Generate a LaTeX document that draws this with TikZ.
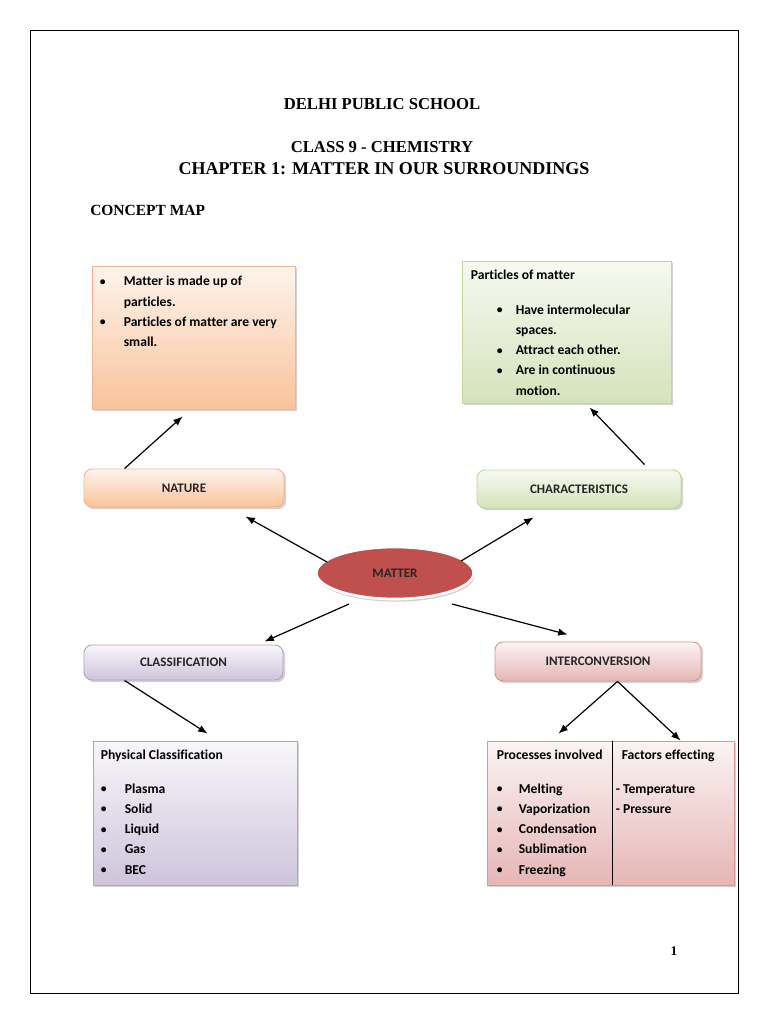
\documentclass[tikz,border=0pt]{standalone}
\usepackage{fontspec}
\setmainfont{Liberation Serif}
\newfontfamily\calib[Ligatures=NoCommon]{Carlito}
\usetikzlibrary{arrows.meta,calc,fit,shadows,shapes.geometric}
\definecolor{orT}{HTML}{FEF4EC}
\definecolor{orB}{HTML}{F9C39B}
\definecolor{orD}{HTML}{F2B48A}
\definecolor{grT}{HTML}{F6F9F0}
\definecolor{grB}{HTML}{D5E3BB}
\definecolor{grD}{HTML}{C3D69B}
\definecolor{puT}{HTML}{F8F6FA}
\definecolor{puB}{HTML}{CEC4DC}
\definecolor{puD}{HTML}{B3A2C7}
\definecolor{piT}{HTML}{FCF3F3}
\definecolor{piB}{HTML}{E5B6B5}
\definecolor{piD}{HTML}{D99694}
\definecolor{matterred}{HTML}{C0504D}
\begin{document}
\begin{tikzpicture}[x=0.75pt,y=-0.75pt,
  shbox/.style={inner sep=0pt, line width=0.7pt,
    drop shadow={shadow xshift=1.6pt, shadow yshift=-1.6pt, opacity=0.35}},
  orbox/.style={shbox, draw=orD, top color=orT, bottom color=orB},
  grbox/.style={shbox, draw=grD, top color=grT, bottom color=grB},
  pubox/.style={shbox, draw=puD, top color=puT, bottom color=puB},
  pibox/.style={shbox, draw=piD, top color=piT, bottom color=piB},
  pill/.style={rounded corners=6pt},
  arr/.style={-{Latex[length=7pt,width=5.5pt]}, line width=0.9pt},
  bul/.style={},
  boxtext/.style={font=\calib\bfseries\fontsize{10.2}{15.2}\selectfont, align=left, inner sep=0pt, anchor=north west},
  lbl/.style={font=\calib\bfseries\fontsize{9.8}{11}\selectfont, text=black!85},
  ttl/.style={font=\bfseries\fontsize{12.5}{14}\selectfont, inner sep=0pt}
]
\newcommand\bu{\raisebox{0.3pt}{\scalebox{0.85}{\textbullet}}}
\useasboundingbox (0,0) rectangle (768,1024);
\fill[white] (0,0) rectangle (768,1024);
\node[draw, line width=0.75pt, inner sep=0pt, fit={(30,31) (738,993)}] (page) {};

% titles
\node[ttl, anchor=base] (t1) at (382,109) {DELHI PUBLIC SCHOOL};
\node[ttl, anchor=base] (t2) at (382,152) {CLASS 9 - CHEMISTRY};
\node[ttl, anchor=base, font=\bfseries\fontsize{13.5}{15}\selectfont] (t3) at (384,174) {CHAPTER 1: MATTER IN OUR SURROUNDINGS};
\node[ttl, anchor=base west, font=\bfseries\fontsize{11.6}{13}\selectfont] (t4) at (90,215) {CONCEPT MAP};

% boxes
\node[orbox, fit={(92,266) (295,409)}] (tl) {};
\node[grbox, fit={(462,261) (671,403)}] (tr) {};
\node[orbox, pill, fit={(84,469) (284,507)}, label={[lbl]center:NATURE}] (nature) {};
\node[grbox, pill, fit={(477,470) (681,508)}, label={[lbl]center:CHARACTERISTICS}] (char) {};
\node[pubox, pill, fit={(84,645) (283,680)}, label={[lbl]center:CLASSIFICATION}] (class) {};
\node[pibox, pill, fit={(495,642) (701,681)}, label={[lbl]center:INTERCONVERSION}] (inter) {};
\node[pubox, fit={(93,741) (297,885)}] (phys) {};
\node[pibox, fit={(487,741) (734,885)}] (proc) {};
\draw[line width=0.75pt] ($(proc.north west)+(126,0)$) coordinate (dtop) -- ($(proc.south west)+(126,0)$) coordinate (dbot);

% matter ellipse
\node[ellipse, minimum width=118pt, minimum height=39pt, fill=matterred, draw=white, line width=2pt,
  drop shadow={shadow xshift=0.8pt, shadow yshift=-2pt, opacity=0.35}, lbl] (matter) at (395,573) {MATTER};

% box texts
\node[boxtext] (tltext) at ($(tl.north west)+(8,5.8)$) {%
\strut\makebox[18pt][l]{\bu}Matter is made up of\\
\strut\hspace*{18pt}particles.\\
\strut\makebox[18pt][l]{\bu}Particles of matter are very\\
\strut\hspace*{18pt}small.};

\node[boxtext] (trtext) at ($(tr.north west)+(9,4.8)$) {%
\strut Particles of matter\\[10.5pt]
\strut\hspace*{19.5pt}\makebox[14.25pt][l]{\bu}Have intermolecular\\
\strut\hspace*{33.75pt}spaces.\\
\strut\hspace*{19.5pt}\makebox[14.25pt][l]{\bu}Attract each other.\\
\strut\hspace*{19.5pt}\makebox[14.25pt][l]{\bu}Are in continuous\\
\strut\hspace*{33.75pt}motion.};

\node[boxtext] (phystext) at ($(phys.north west)+(8,4.8)$) {%
\strut Physical Classification\\[9.75pt]
\strut\makebox[18pt][l]{\bu}Plasma\\
\strut\makebox[18pt][l]{\bu}Solid\\
\strut\makebox[18pt][l]{\bu}Liquid\\
\strut\makebox[18pt][l]{\bu}Gas\\
\strut\makebox[18pt][l]{\bu}BEC};

\node[boxtext] (proctext) at ($(proc.north west)+(10,4.8)$) {%
\strut Processes involved\\[9.75pt]
\strut\makebox[16.5pt][l]{\bu}Melting\\
\strut\makebox[16.5pt][l]{\bu}Vaporization\\
\strut\makebox[16.5pt][l]{\bu}Condensation\\
\strut\makebox[16.5pt][l]{\bu}Sublimation\\
\strut\makebox[16.5pt][l]{\bu}Freezing};

\node[boxtext] (factext) at ($(proc.north west)+(129,4.8)$) {%
\strut\hspace*{4.5pt}Factors effecting\\[9.75pt]
\strut - Temperature\\
\strut - Pressure};

\node[font=\bfseries\fontsize{10}{12}\selectfont, anchor=base] (pnum) at (674,955) {1};

% connectors
\draw[arr] ($(nature.north west)+(41,0)$) -- ($(tl.south west)+(91,7)$);
\draw[arr] ($(char.north west)+(168,-5)$) -- ($(tr.south west)+(128,4)$);
\draw[arr] ($(matter.center)+(-68,-11)$) -- ($(nature.south west)+(162,9)$);
\draw[arr] ($(matter.center)+(66,-12)$) -- ($(char.south west)+(57,9)$);
\draw[arr] ($(matter.center)+(-46,31)$) -- ($(class.north west)+(181,-3)$);
\draw[arr] ($(matter.center)+(57,31)$) -- ($(inter.north west)+(73,-7)$);
\draw[arr] ($(class.south west)+(41,0)$) -- ($(phys.north west)+(115,-7)$);
\draw[arr] ($(inter.south west)+(123,0)$) -- ($(proc.north west)+(72,-7)$);
\draw[arr] ($(inter.south west)+(123,0)$) -- ($(proc.north west)+(194,0)$);
\end{tikzpicture}
\end{document}
